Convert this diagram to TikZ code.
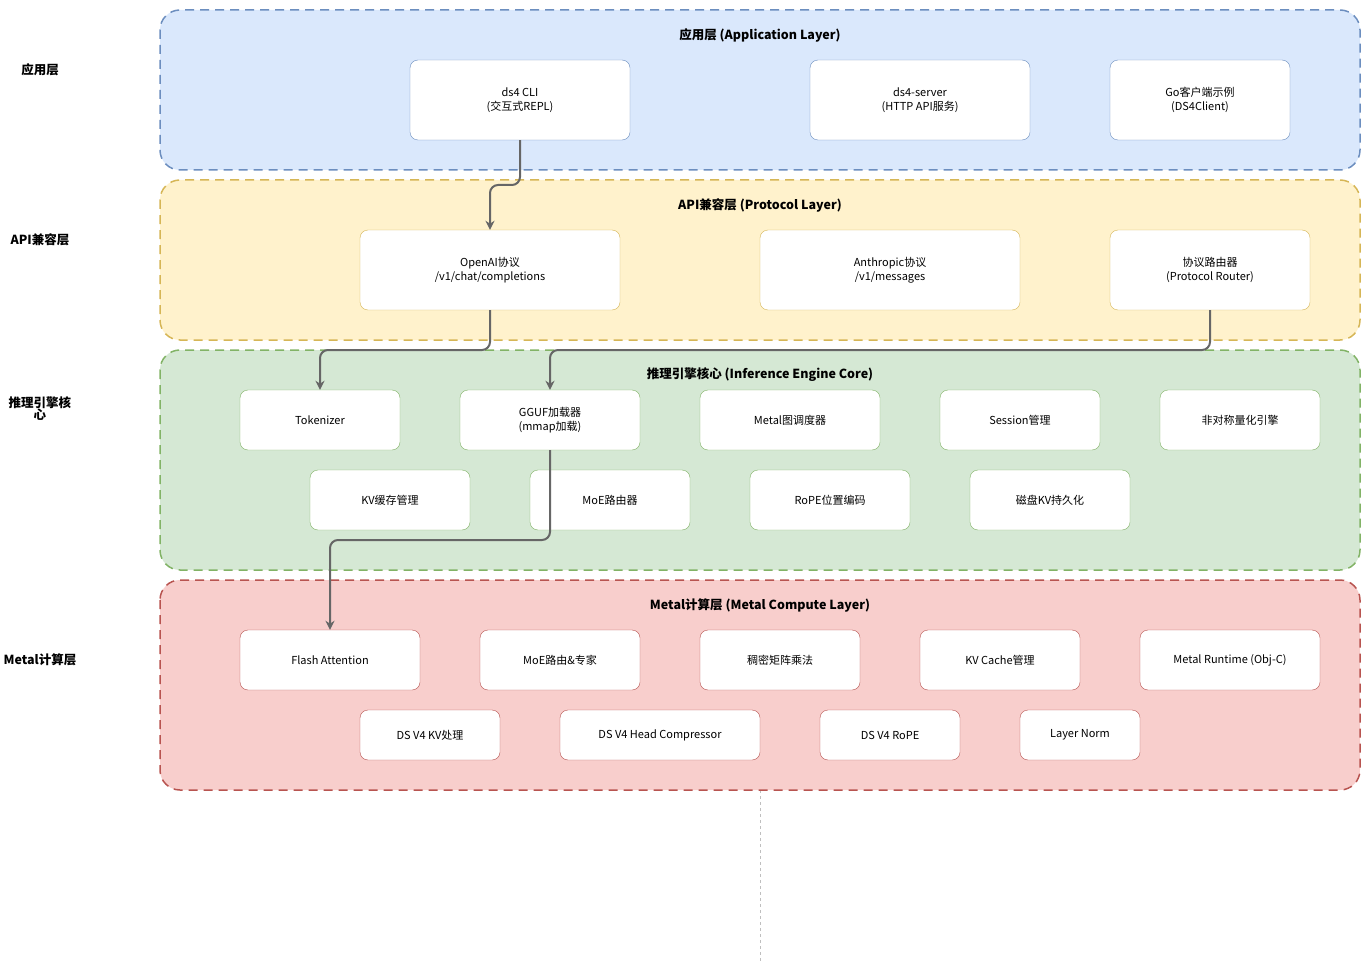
\documentclass[tikz,border=0pt]{standalone}
\usepackage{fontspec}
\setmainfont{Noto Sans CJK SC}
\usetikzlibrary{arrows.meta}
\definecolor{bF}{HTML}{DAE8FC}\definecolor{bS}{HTML}{6C8EBF}
\definecolor{yF}{HTML}{FFF2CC}\definecolor{yS}{HTML}{D6B656}
\definecolor{gF}{HTML}{D5E8D4}\definecolor{gS}{HTML}{82B366}
\definecolor{rF}{HTML}{F8CECC}\definecolor{rS}{HTML}{B85450}
\definecolor{ln}{HTML}{666666}
\begin{document}
\begin{tikzpicture}[x=1pt,y=-1pt,
 layer/.style={draw=#1, line width=1.5pt, dash pattern=on 9pt off 6pt, rounded corners=20pt},
 box/.style={draw=#1, fill=white, rounded corners=8pt, align=center, font=\fontsize{11}{14}\selectfont, inner sep=0pt},
 title/.style={font=\fontsize{12.5}{15}\selectfont\bfseries},
 side/.style={font=\fontsize{12.5}{15}\selectfont\bfseries, align=center},
 conn/.style={draw=ln, line width=2pt, rounded corners=8pt, -{Stealth[length=9pt,width=9pt]}}]
\useasboundingbox (0,0) rectangle (1361,963);
\draw[gray!50, dash pattern=on 3pt off 3pt] (760,790) -- (760,963);
\path[layer=bS, fill=bF] (160,10) rectangle (1360,170);
\path[layer=yS, fill=yF] (160,180) rectangle (1360,340);
\path[layer=gS, fill=gF] (160,350) rectangle (1360,570);
\path[layer=rS, fill=rF] (160,580) rectangle (1360,790);
\node[title] (t1) at (760,35) {应用层 (Application Layer)};
\node[title] (t2) at (760,205) {API兼容层 (Protocol Layer)};
\node[title] (t3) at (760,375) {推理引擎核心 (Inference Engine Core)};
\node[title] (t4) at (760,605) {Metal计算层 (Metal Compute Layer)};
\node[side] (s1) at (40,70) {应用层};
\node[side] (s2) at (40,240) {API兼容层};
\node[side] (s3) at (40,409) {推理引擎核\\[-3pt]心};
\node[side] (s4) at (40,660) {Metal计算层};
% application
\node[box=bS, minimum width=220pt, minimum height=80pt] (cli) at (520,100) {ds4 CLI\\(交互式REPL)};
\node[box=bS, minimum width=220pt, minimum height=80pt] (srv) at (920,100) {ds4-server\\(HTTP API服务)};
\node[box=bS, minimum width=180pt, minimum height=80pt] (go) at (1200,100) {Go客户端示例\\(DS4Client)};
% protocol
\node[box=yS, minimum width=260pt, minimum height=80pt] (oai) at (490,270) {OpenAI协议\\/v1/chat/completions};
\node[box=yS, minimum width=260pt, minimum height=80pt] (ant) at (890,270) {Anthropic协议\\/v1/messages};
\node[box=yS, minimum width=200pt, minimum height=80pt] (rt) at (1210,270) {协议路由器\\(Protocol Router)};
% engine
\node[box=gS, minimum width=160pt, minimum height=60pt] (tok) at (320,420) {Tokenizer};
\node[box=gS, minimum width=180pt, minimum height=60pt] (gguf) at (550,420) {GGUF加载器\\(mmap加载)};
\node[box=gS, minimum width=180pt, minimum height=60pt] (msch) at (790,420) {Metal图调度器};
\node[box=gS, minimum width=160pt, minimum height=60pt] (ses) at (1020,420) {Session管理};
\node[box=gS, minimum width=160pt, minimum height=60pt] (asym) at (1240,420) {非对称量化引擎};
\node[box=gS, minimum width=160pt, minimum height=60pt] (kv) at (390,500) {KV缓存管理};
\node[box=gS, minimum width=160pt, minimum height=60pt] (moer) at (610,500) {MoE路由器};
\node[box=gS, minimum width=160pt, minimum height=60pt] (rope) at (830,500) {RoPE位置编码};
\node[box=gS, minimum width=160pt, minimum height=60pt] (disk) at (1050,500) {磁盘KV持久化};
% metal
\node[box=rS, minimum width=180pt, minimum height=60pt] (fa) at (330,660) {Flash Attention};
\node[box=rS, minimum width=160pt, minimum height=60pt] (moe) at (560,660) {MoE路由\&专家};
\node[box=rS, minimum width=160pt, minimum height=60pt] (dense) at (780,660) {稠密矩阵乘法};
\node[box=rS, minimum width=160pt, minimum height=60pt] (kvc) at (1000,660) {KV Cache管理};
\node[box=rS, minimum width=180pt, minimum height=60pt] (mrt) at (1230,660) {Metal Runtime (Obj-C)};
\node[box=rS, minimum width=140pt, minimum height=50pt] (dkv) at (430,735) {DS V4 KV处理};
\node[box=rS, minimum width=200pt, minimum height=50pt] (hc) at (660,735) {DS V4 Head Compressor};
\node[box=rS, minimum width=140pt, minimum height=50pt] (drope) at (890,735) {DS V4 RoPE};
\node[box=rS, minimum width=120pt, minimum height=50pt] (lnorm) at (1080,735) {Layer Norm};
% connectors
\draw[conn] (cli.south) -- (520,185) -- (490,185) -- (oai.north);
\draw[conn] (oai.south) -- (490,350) -- (320,350) -- (tok.north);
\draw[conn] (rt.south) -- (1210,350) -- (550,350) -- (gguf.north);
\draw[conn] (gguf.south) -- (550,540) -- (330,540) -- (fa.north);
\end{tikzpicture}
\end{document}
